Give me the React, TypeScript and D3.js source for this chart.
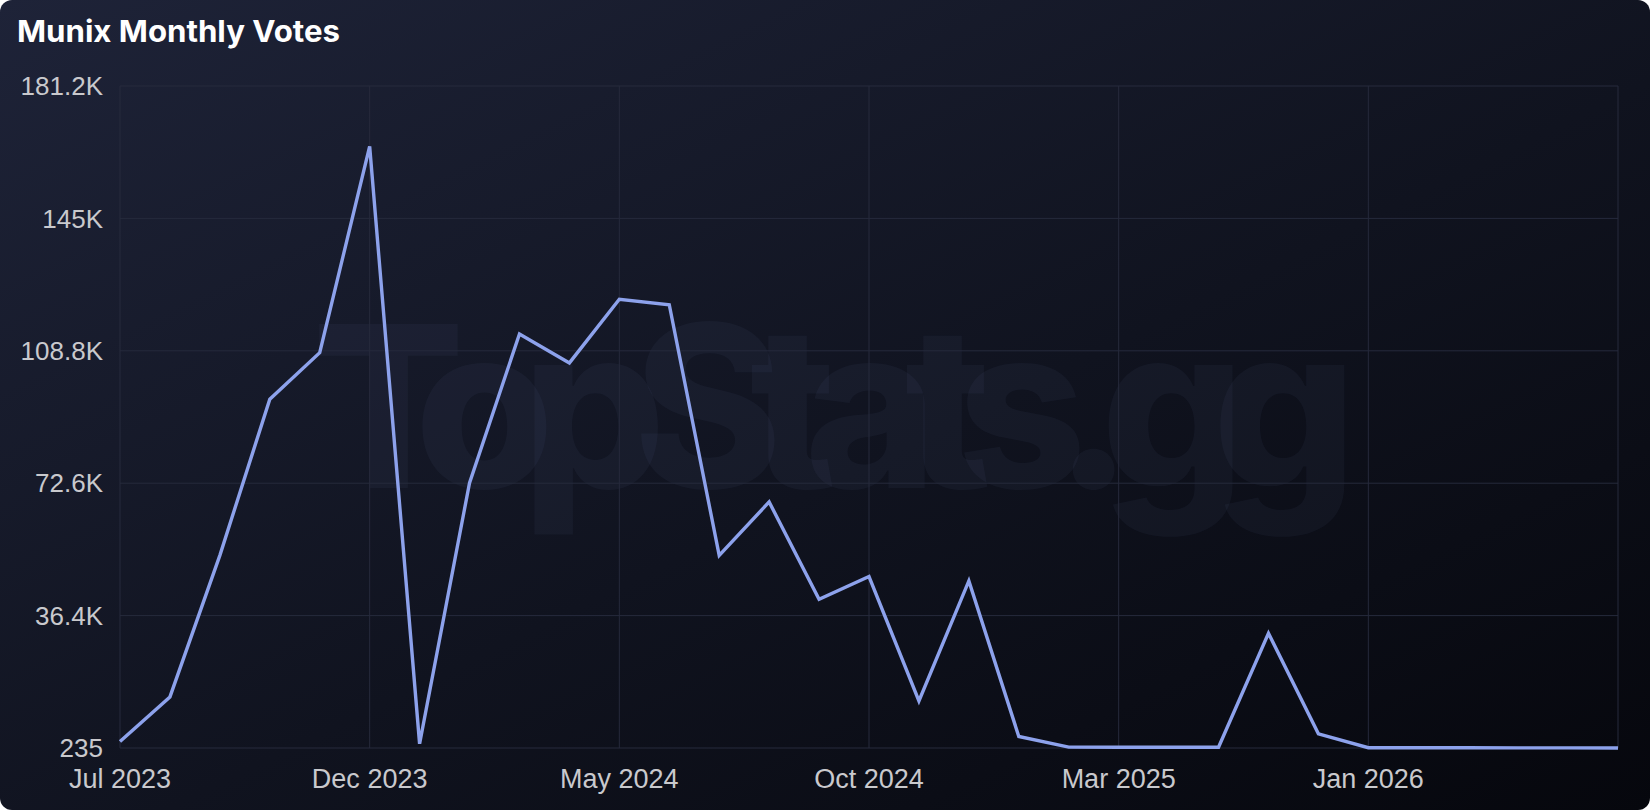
import React, { useEffect, useRef } from 'react';
import * as d3 from 'd3';

const months: string[] = [
    "Jul 2023", "Aug 2023", "Sep 2023", "Oct 2023", "Nov 2023", "Dec 2023",
    "Jan 2024", "Feb 2024", "Mar 2024", "Apr 2024", "May 2024", "Jun 2024",
    "Jul 2024", "Aug 2024", "Sep 2024", "Oct 2024", "Nov 2024", "Dec 2024",
    "Jan 2025", "Feb 2025", "Mar 2025", "Apr 2025", "May 2025", "Nov 2025",
    "Dec 2025", "Jan 2026", "Feb 2026", "Mar 2026", "Apr 2026", "May 2026",
    "Jun 2026",
];

const votes: number[] = [
    2000, 14200, 52900, 95600, 108300, 164700,
    1400, 72700, 113400, 105500, 122900, 121400,
    52900, 67500, 40900, 47100, 13100, 45900,
    3400, 480, 460, 440, 430, 31600,
    4100, 320, 300, 290, 280, 260,
    240,
];

const xTickLabels: string[] = ["Jul 2023", "Dec 2023", "May 2024", "Oct 2024", "Mar 2025", "Jan 2026"];
const yTickValues: number[] = [235, 36428, 72621, 108814, 145007, 181200];
const yTickLabels: string[] = ["235", "36.4K", "72.6K", "108.8K", "145K", "181.2K"];

const W = 1650;
const H = 810;

const MonthlyVotesChart: React.FC = () => {
    const chartRef = useRef<SVGSVGElement>(null);

    useEffect(() => {
        if (!chartRef.current) return;

        const svg = d3.select(chartRef.current);
        svg.selectAll("*").remove(); // start clean

        const margin = { top: 86, right: 32, bottom: 62, left: 120 };
        const left = margin.left;
        const right = W - margin.right;
        const top = margin.top;
        const bottom = H - margin.bottom;

        // background card
        const defs = svg.append("defs");
        const grad = defs.append("linearGradient")
            .attr("id", "bg")
            .attr("x1", "0%").attr("y1", "0%")
            .attr("x2", "100%").attr("y2", "100%");
        grad.append("stop").attr("offset", "0%").attr("stop-color", "#1e2338");
        grad.append("stop").attr("offset", "55%").attr("stop-color", "#10131f");
        grad.append("stop").attr("offset", "100%").attr("stop-color", "#06070d");

        svg.append("rect")
            .attr("width", W).attr("height", H)
            .attr("rx", 12)
            .attr("fill", "url(#bg)");

        // watermark
        svg.append("text")
            .attr("x", 312)
            .attr("y", 488)
            .attr("textLength", 1019)
            .attr("lengthAdjust", "spacing")
            .attr("letter-spacing", -26)
            .attr("font-family", "Inter, sans-serif")
            .attr("font-weight", 800)
            .attr("font-size", 226)
            .attr("fill", "#aab8ff")
            .attr("fill-opacity", 0.045)
            .text("TopStats.gg");

        // title
        svg.append("text")
            .attr("x", 17)
            .attr("y", 42)
            .attr("textLength", 323)
            .attr("lengthAdjust", "spacingAndGlyphs")
            .attr("font-family", "Inter, sans-serif")
            .attr("font-weight", 700)
            .attr("font-size", 30)
            .attr("fill", "#ffffff")
            .text("Munix Monthly Votes");

        const x = d3.scalePoint<string>().domain(months).range([left, right]);
        const y = d3.scaleLinear().domain([235, 181200]).range([bottom, top]);

        const grid = svg.append("g").attr("stroke", "#262a3c").attr("stroke-width", 1);

        // horizontal grid
        grid.selectAll("line.h")
            .data(yTickValues)
            .join("line")
            .attr("class", "h")
            .attr("x1", left).attr("x2", right)
            .attr("y1", d => y(d)).attr("y2", d => y(d));

        // vertical grid at each labelled month plus the right edge
        const vLines = [...xTickLabels, months[months.length - 1]];
        grid.selectAll("line.v")
            .data(vLines)
            .join("line")
            .attr("class", "v")
            .attr("x1", d => x(d)!).attr("x2", d => x(d)!)
            .attr("y1", top).attr("y2", bottom);

        // y labels
        svg.append("g")
            .selectAll("text")
            .data(yTickValues)
            .join("text")
            .attr("x", 103)
            .attr("y", d => y(d))
            .attr("dy", "0.35em")
            .attr("text-anchor", "end")
            .attr("font-family", "'Liberation Sans', Arial, sans-serif")
            .attr("font-size", 26)
            .attr("fill", "#c9c9cd")
            .text((d, i) => yTickLabels[i]);

        // x labels
        svg.append("g")
            .selectAll("text")
            .data(xTickLabels)
            .join("text")
            .attr("x", d => x(d)!)
            .attr("y", 788)
            .attr("text-anchor", "middle")
            .attr("font-family", "'Liberation Sans', Arial, sans-serif")
            .attr("font-size", 27)
            .attr("fill", "#c9c9cd")
            .text(d => d);

        // the line
        const valueline = d3.line<number>()
            .x((d, i) => x(months[i])!)
            .y(d => y(d));

        svg.append("path")
            .datum(votes)
            .attr("fill", "none")
            .attr("stroke", "#8da2ec")
            .attr("stroke-width", 3.4)
            .attr("d", valueline);
    }, []);

    return <svg ref={chartRef} width={W} height={H} style={{ display: "block" }}></svg>;
};

export default function App() {
    return (
        <>
            <style>{`body { margin: 0; background: #ffffff; }`}</style>
            <MonthlyVotesChart />
        </>
    );
}
